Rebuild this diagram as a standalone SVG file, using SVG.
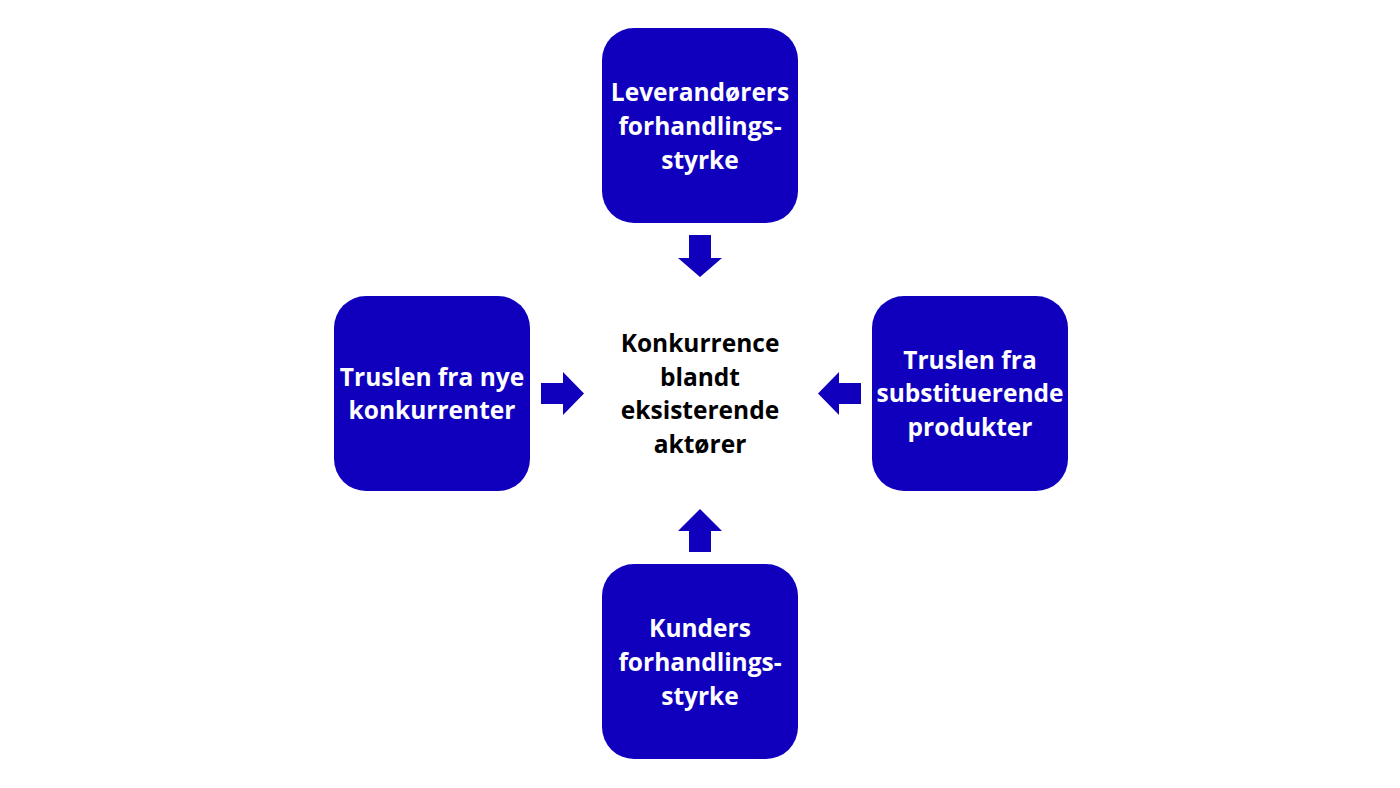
<svg xmlns="http://www.w3.org/2000/svg" width="1400" height="788" viewBox="0 0 1400 788">
<style>
.box{fill:#1000BD}
.arr{fill:#1000BD}
.t{font-family:"Open Sans","Noto Sans","Liberation Sans",sans-serif;font-weight:700;font-size:24.5px;text-anchor:middle}
.w{fill:#ffffff}
.k{fill:#000000}
</style>
<rect width="1400" height="788" fill="#ffffff"/>
<g id="node-top">
<rect class="box" x="602" y="28" width="196" height="195" rx="32"/>
<text class="t w" x="700" y="101">Leverandørers</text>
<text class="t w" x="700" y="135">forhandlings-</text>
<text class="t w" x="700" y="169">styrke</text>
</g>
<g id="node-left">
<rect class="box" x="334" y="296" width="196" height="195" rx="32"/>
<text class="t w" x="432" y="386">Truslen fra nye</text>
<text class="t w" x="432" y="419">konkurrenter</text>
</g>
<g id="node-right">
<rect class="box" x="872" y="296" width="196" height="195" rx="32"/>
<text class="t w" x="970" y="369">Truslen fra</text>
<text class="t w" x="970" y="402">substituerende</text>
<text class="t w" x="970" y="436">produkter</text>
</g>
<g id="node-bottom">
<rect class="box" x="602" y="564" width="196" height="195" rx="32"/>
<text class="t w" x="700" y="637">Kunders</text>
<text class="t w" x="700" y="671">forhandlings-</text>
<text class="t w" x="700" y="705">styrke</text>
</g>
<g id="node-center">
<text class="t k" x="700" y="352">Konkurrence</text>
<text class="t k" x="700" y="386">blandt</text>
<text class="t k" x="700" y="419">eksisterende</text>
<text class="t k" x="700" y="453">aktører</text>
</g>
<g id="connectors">
<polygon class="arr" points="689,235 711,235 711,258 722,258 700,277 678,258 689,258"/>
<polygon class="arr" points="689,552 711,552 711,531 722,531 700,509 678,531 689,531"/>
<polygon class="arr" points="541,383 563,383 563,372 584,393.5 563,415 563,404 541,404"/>
<polygon class="arr" points="861,383 839,383 839,372 818,393.5 839,415 839,404 861,404"/>
</g>
</svg>
